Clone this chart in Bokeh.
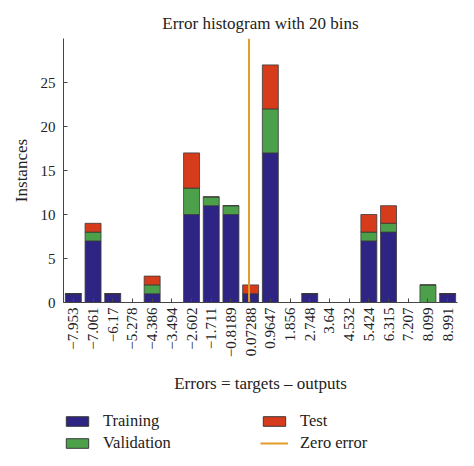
import numpy as np
from bokeh.plotting import figure
from bokeh.layouts import column
from bokeh.models import ColumnDataSource, FixedTicker, Legend, LegendItem, Range1d
from bokeh.embed import file_html
from bokeh.resources import INLINE

# Histogram bins (centres) and counts per data split
bin_centers = [-7.953, -7.061, -6.17, -5.278, -4.386, -3.494, -2.602, -1.711, -0.8189, 0.07288,
               0.9647, 1.856, 2.748, 3.64, 4.532, 5.424, 6.315, 7.207, 8.099, 8.991]
bin_labels = ["\u22127.953", "\u22127.061", "\u22126.17", "\u22125.278", "\u22124.386", "\u22123.494",
              "\u22122.602", "\u22121.711", "\u22120.8189", "0.07288", "0.9647", "1.856", "2.748",
              "3.64", "4.532", "5.424", "6.315", "7.207", "8.099", "8.991"]
training = [1, 7, 1, 0, 1, 0, 10, 11, 10, 1, 17, 0, 1, 0, 0, 7, 8, 0, 0, 1]
validation = [0, 1, 0, 0, 1, 0, 3, 1, 1, 0, 5, 0, 0, 0, 0, 1, 1, 0, 2, 0]
test = [0, 1, 0, 0, 1, 0, 4, 0, 0, 1, 5, 0, 0, 0, 0, 2, 2, 0, 0, 0]
series = ["Training", "Validation", "Test"]
zero_error = 0.0
y_top = 30

FONT = "Liberation Serif"
colors = ["#2e2484", "#4ca04a", "#d63c1c"]
orange = "#e39b2a"
edge = "#3a3a3a"

step = (bin_centers[-1] - bin_centers[0]) / (len(bin_centers) - 1)

source = ColumnDataSource(data=dict(x=bin_centers, Training=training,
                                    Validation=validation, Test=test))

p = figure(title="Error histogram with 20 bins",
           width=466, height=398,
           x_range=Range1d(bin_centers[0] - step / 2, bin_centers[-1] + step / 2),
           y_range=Range1d(0, y_top),
           min_border_left=63, min_border_right=9, min_border_top=38,
           min_border_bottom=96,
           toolbar_location=None, output_backend="svg")

p.vbar_stack(series, x="x", width=step * 0.81, color=colors,
             line_color=edge, line_width=0.8, source=source)
p.segment(x0=[zero_error], y0=[0], x1=[zero_error], y1=[y_top],
          line_color=orange, line_width=2)

# axes
p.xaxis.ticker = FixedTicker(ticks=bin_centers)
p.xaxis.major_label_overrides = dict(zip(bin_centers, bin_labels))
p.xaxis.major_label_orientation = np.pi / 2
p.xaxis.axis_label = "Errors = targets \u2013 outputs"
p.yaxis.axis_label = "Instances"
p.yaxis.ticker = FixedTicker(ticks=[0, 5, 10, 15, 20, 25])
for ax in (p.xaxis, p.yaxis):
    ax.major_tick_in = 4
    ax.major_tick_out = 0
    ax.minor_tick_in = 0
    ax.minor_tick_out = 0
    ax.axis_line_color = "#444444"
    ax.major_tick_line_color = "#444444"
    ax.major_label_text_font = FONT
    ax.major_label_text_font_size = "15px"
    ax.major_label_text_color = "#222222"
    ax.axis_label_text_font = FONT
    ax.axis_label_text_font_size = "17px"
    ax.axis_label_text_font_style = "normal"
    ax.axis_label_text_color = "#222222"
p.xaxis.major_label_standoff = 5
p.xaxis.axis_label_standoff = 14
p.yaxis.major_label_standoff = 8
p.yaxis.axis_label_standoff = 7

p.title.text_font = FONT
p.title.text_font_size = "17px"
p.title.text_font_style = "normal"
p.title.text_color = "#222222"
p.title.align = "center"
p.title.standoff = 12

p.xgrid.visible = False
p.ygrid.visible = False
p.outline_line_color = None

# legend lives in its own strip under the chart (frames are aligned by the column)
q = figure(width=466, height=60, x_axis_location=None, y_axis_location=None,
           min_border=0, toolbar_location=None, output_backend="svg")
q.xgrid.visible = False
q.ygrid.visible = False
q.outline_line_color = None
swatches = [q.vbar(x=[np.nan], top=[np.nan], width=1, color=c, line_color=edge)
            for c in colors]
zero_swatch = q.line(x=[np.nan], y=[np.nan], line_color=orange, line_width=2)

legend = Legend(items=[LegendItem(label="Training", renderers=[swatches[0]]),
                       LegendItem(label="Validation", renderers=[swatches[1]]),
                       LegendItem(label="Test", renderers=[swatches[2]]),
                       LegendItem(label="Zero error", renderers=[zero_swatch])],
                ncols=2, location=(0, 5))
legend.label_text_font = FONT
legend.label_text_font_size = "16.5px"
legend.label_text_color = "#222222"
legend.glyph_width = 28
legend.glyph_height = 12
legend.label_height = 20
legend.label_standoff = 12
legend.label_width = 155
legend.spacing = 2
legend.padding = 0
legend.margin = 0
legend.border_line_color = None
legend.background_fill_alpha = 0
q.add_layout(legend, "center")

layout = column(p, q, spacing=0)
open("out.html", "w").write(file_html(layout, INLINE))
